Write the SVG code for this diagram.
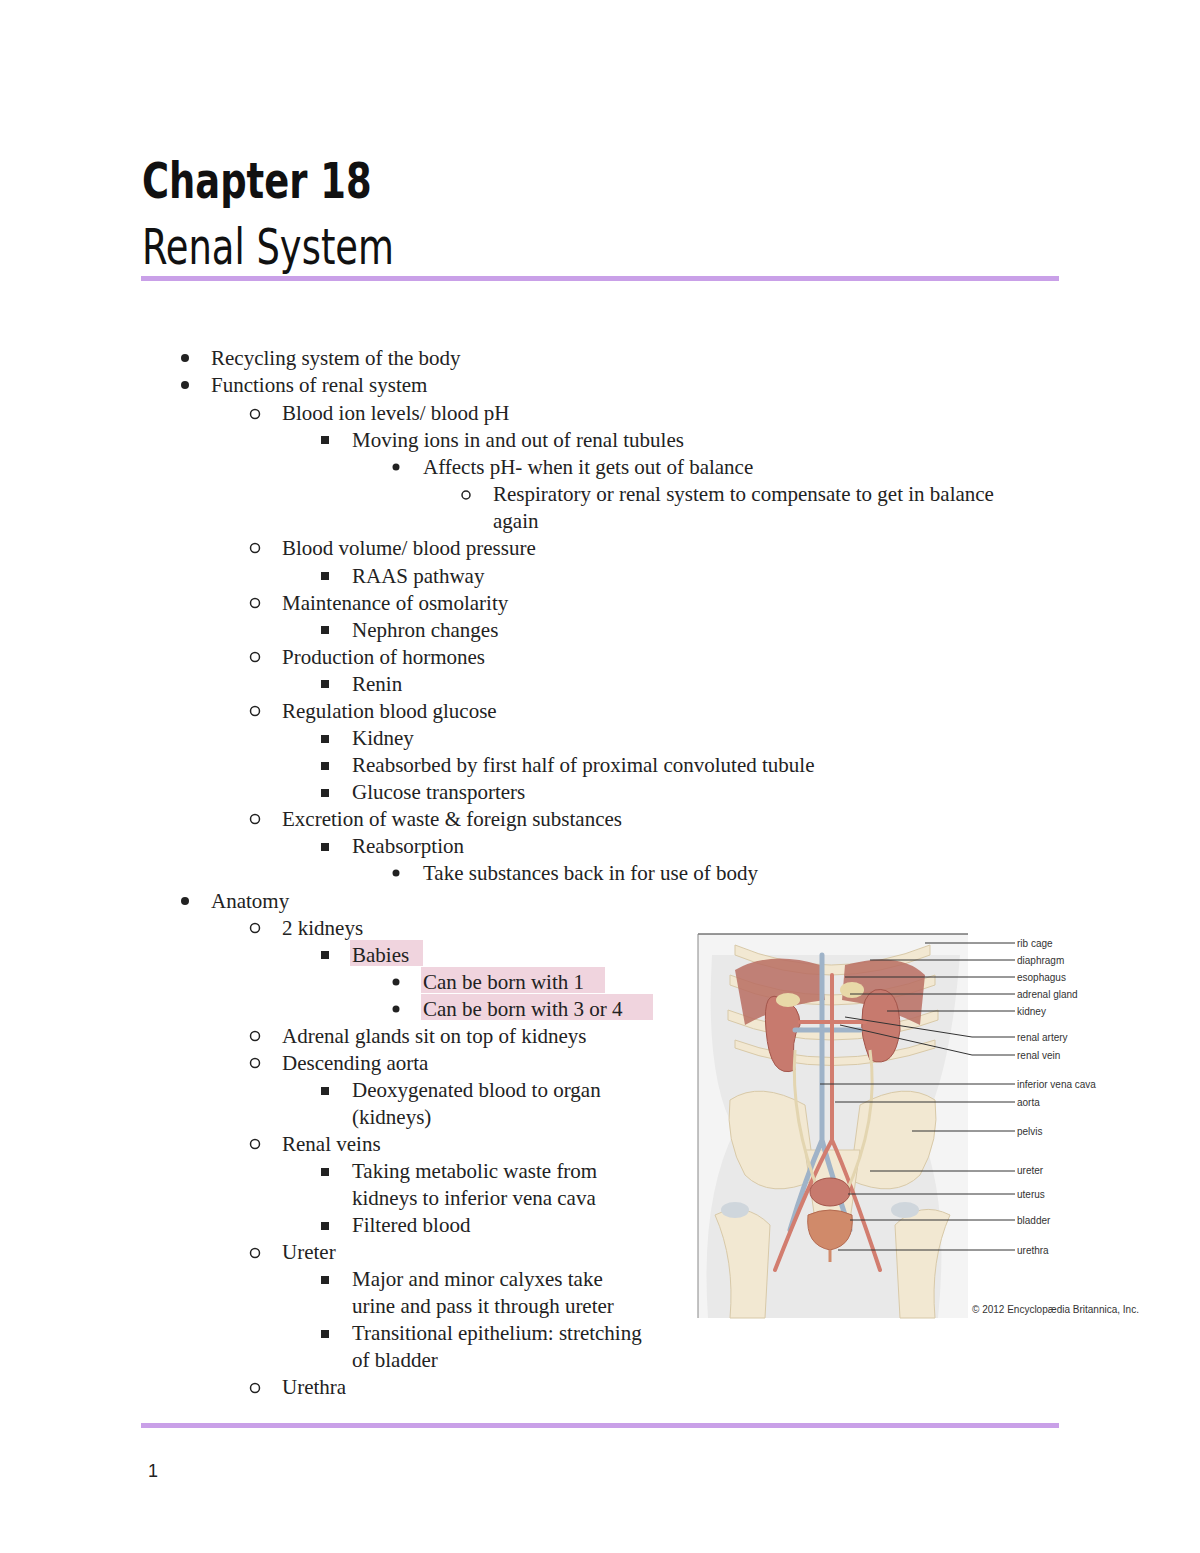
<svg xmlns="http://www.w3.org/2000/svg" width="1200" height="1553" viewBox="0 0 1200 1553">
<style>
.t{font-family:"Liberation Serif",serif;font-size:21px;fill:#222}
.h{font-family:"DejaVu Sans Condensed","Liberation Sans Narrow",sans-serif;font-stretch:condensed;fill:#111}
.l{font-family:"Liberation Sans",sans-serif;font-size:10px;fill:#333}
.ln{stroke:#333;stroke-width:1;fill:none}
.bone{fill:#f2e8d2;stroke:#d8c9a8;stroke-width:1}
.org{fill:#c77a6e;stroke:#a3554b;stroke-width:1}
.art{fill:none;stroke:#d27d6f;stroke-width:4;stroke-linecap:round}
.vein{fill:none;stroke:#9fb3c8;stroke-width:5;stroke-linecap:round}
.uret{fill:none;stroke:#e3d5b0;stroke-width:3}
</style>
<rect width="1200" height="1553" fill="#fff"/>
<g id="header">
<text class="h" x="142" y="198" font-size="50" font-weight="bold" transform="translate(142 0) scale(0.82 1) translate(-142 0)">Chapter 18</text>
<text class="h" x="142" y="264" font-size="50" transform="translate(142 0) scale(0.82 1) translate(-142 0)">Renal System</text>
<rect x="141" y="276" width="918" height="5" fill="#c9a0e8"/>
</g>
<g id="notes">
<g fill="#222">
<circle cx="185" cy="358" r="4"/><circle cx="185" cy="385" r="4"/><circle cx="185" cy="901" r="4"/>
<circle cx="396" cy="467" r="3.5"/><circle cx="396" cy="873" r="3.5"/><circle cx="396" cy="982" r="3.5"/><circle cx="396" cy="1009" r="3.5"/>
<rect x="321" y="436" width="8" height="8"/><rect x="321" y="572" width="8" height="8"/><rect x="321" y="626" width="8" height="8"/><rect x="321" y="680" width="8" height="8"/>
<rect x="321" y="735" width="8" height="8"/><rect x="321" y="762" width="8" height="8"/><rect x="321" y="789" width="8" height="8"/><rect x="321" y="843" width="8" height="8"/>
<rect x="321" y="951" width="8" height="8"/><rect x="321" y="1087" width="8" height="8"/><rect x="321" y="1168" width="8" height="8"/><rect x="321" y="1222" width="8" height="8"/>
<rect x="321" y="1276" width="8" height="8"/><rect x="321" y="1330" width="8" height="8"/>
</g>
<g fill="none" stroke="#222" stroke-width="1.5">
<circle cx="255" cy="414" r="4.5"/><circle cx="255" cy="548" r="4.5"/><circle cx="255" cy="603" r="4.5"/><circle cx="255" cy="657" r="4.5"/>
<circle cx="255" cy="711" r="4.5"/><circle cx="255" cy="819" r="4.5"/><circle cx="255" cy="928" r="4.5"/><circle cx="255" cy="1036" r="4.5"/>
<circle cx="255" cy="1063" r="4.5"/><circle cx="255" cy="1144" r="4.5"/><circle cx="255" cy="1253" r="4.5"/><circle cx="255" cy="1388" r="4.5"/>
<circle cx="466" cy="495" r="4"/>
</g>
<rect x="350" y="940" width="73" height="26" fill="#f0d4de"/>
<rect x="421" y="967" width="184" height="26" fill="#f0d4de"/>
<rect x="421" y="994" width="232" height="26" fill="#f0d4de"/>
<text class="t" x="211" y="365">Recycling system of the body</text>
<text class="t" x="211" y="392">Functions of renal system</text>
<text class="t" x="282" y="420">Blood ion levels/ blood pH</text>
<text class="t" x="352" y="447">Moving ions in and out of renal tubules</text>
<text class="t" x="423" y="474">Affects pH- when it gets out of balance</text>
<text class="t" x="493" y="501">Respiratory or renal system to compensate to get in balance</text>
<text class="t" x="493" y="528">again</text>
<text class="t" x="282" y="555">Blood volume/ blood pressure</text>
<text class="t" x="352" y="583">RAAS pathway</text>
<text class="t" x="282" y="610">Maintenance of osmolarity</text>
<text class="t" x="352" y="637">Nephron changes</text>
<text class="t" x="282" y="664">Production of hormones</text>
<text class="t" x="352" y="691">Renin</text>
<text class="t" x="282" y="718">Regulation blood glucose</text>
<text class="t" x="352" y="745">Kidney</text>
<text class="t" x="352" y="772">Reabsorbed by first half of proximal convoluted tubule</text>
<text class="t" x="352" y="799">Glucose transporters</text>
<text class="t" x="282" y="826">Excretion of waste &amp; foreign substances</text>
<text class="t" x="352" y="853">Reabsorption</text>
<text class="t" x="423" y="880">Take substances back in for use of body</text>
<text class="t" x="211" y="908">Anatomy</text>
<text class="t" x="282" y="935">2 kidneys</text>
<text class="t" x="352" y="962">Babies</text>
<text class="t" x="423" y="989">Can be born with 1</text>
<text class="t" x="423" y="1016">Can be born with 3 or 4</text>
<text class="t" x="282" y="1043">Adrenal glands sit on top of kidneys</text>
<text class="t" x="282" y="1070">Descending aorta</text>
<text class="t" x="352" y="1097">Deoxygenated blood to organ</text>
<text class="t" x="352" y="1124">(kidneys)</text>
<text class="t" x="282" y="1151">Renal veins</text>
<text class="t" x="352" y="1178">Taking metabolic waste from</text>
<text class="t" x="352" y="1205">kidneys to inferior vena cava</text>
<text class="t" x="352" y="1232">Filtered blood</text>
<text class="t" x="282" y="1259">Ureter</text>
<text class="t" x="352" y="1286">Major and minor calyxes take</text>
<text class="t" x="352" y="1313">urine and pass it through ureter</text>
<text class="t" x="352" y="1340">Transitional epithelium: stretching</text>
<text class="t" x="352" y="1367">of bladder</text>
<text class="t" x="282" y="1394">Urethra</text>
</g>
<g id="figure">
<rect x="698" y="934" width="270" height="384" fill="#f4f4f4"/>
<line x1="698" y1="934" x2="968" y2="934" class="ln"/>
<line x1="698" y1="934" x2="698" y2="1318" stroke="#888"/>
<path d="M712 955 Q705 1080 735 1130 Q700 1200 708 1318 L938 1318 Q950 1200 920 1130 Q950 1080 960 955 Z" fill="#e9e9e9"/>
<g class="bone">
<path d="M735 945 Q830 985 930 945 L930 955 Q830 995 735 955Z"/>
<path d="M730 975 Q830 1015 935 975 L935 985 Q830 1025 730 985Z"/>
<path d="M728 1010 Q830 1050 938 1010 L938 1020 Q830 1060 728 1020Z"/>
<path d="M735 1040 Q830 1075 935 1040 L935 1048 Q830 1083 735 1048Z"/>
<path d="M730 1100 Q760 1080 805 1105 L815 1180 Q770 1200 745 1175 Q725 1140 730 1100Z"/>
<path d="M935 1100 Q905 1080 860 1105 L850 1180 Q895 1200 920 1175 Q940 1140 935 1100Z"/>
<path d="M805 1150 L860 1150 L850 1220 L815 1220Z"/>
<path d="M715 1215 Q745 1200 770 1225 L765 1318 L730 1318 Q735 1260 715 1215Z"/>
<path d="M950 1215 Q920 1200 895 1225 L900 1318 L935 1318 Q930 1260 950 1215Z"/>
</g>
<path d="M735 970 Q770 950 820 965 L825 1000 Q780 1005 745 1025Z" fill="#b96d62" opacity="0.85"/>
<path d="M845 965 Q900 950 925 975 L920 1025 Q880 1005 842 1000Z" fill="#b96d62" opacity="0.85"/>
<path d="M783 1000 Q762 985 766 1030 Q770 1080 795 1070 Q790 1040 800 1025 Q800 1005 783 1000Z" class="org"/>
<path d="M875 990 Q900 985 900 1030 Q895 1070 870 1060 Q860 1035 862 1020 Q862 995 875 990Z" class="org"/>
<ellipse cx="788" cy="1000" rx="12" ry="7" fill="#e8d9a8"/>
<ellipse cx="852" cy="990" rx="12" ry="8" fill="#e8d9a8"/>
<path class="vein" d="M822 955 L822 1140 M822 1140 Q805 1180 790 1230 M822 1140 Q830 1170 850 1230 M795 1030 L860 1030"/>
<path class="art" d="M832 975 L832 1140 M832 1140 Q810 1180 775 1270 M832 1140 Q850 1180 880 1270 M800 1022 L865 1022"/>
<path class="uret" d="M795 1050 Q790 1120 820 1195 M870 1050 Q880 1120 845 1195"/>
<ellipse cx="830" cy="1192" rx="20" ry="14" class="org"/>
<path d="M808 1215 Q830 1205 852 1215 Q855 1245 830 1250 Q805 1245 808 1215Z" fill="#d08a6a" stroke="#b46a50"/>
<line x1="830" y1="1250" x2="830" y2="1262" stroke="#d08a6a" stroke-width="3"/>
<ellipse cx="735" cy="1210" rx="14" ry="8" fill="#cfd6dc"/>
<ellipse cx="905" cy="1210" rx="14" ry="8" fill="#cfd6dc"/>
<g class="ln" stroke-width="0.8">
<line x1="925" y1="943" x2="1015" y2="943"/>
<line x1="870" y1="960" x2="1015" y2="960"/>
<line x1="845" y1="977" x2="1015" y2="977"/>
<line x1="850" y1="994" x2="1015" y2="994"/>
<line x1="887" y1="1011" x2="1015" y2="1011"/>
<path d="M845 1017 L972 1037 L1015 1037"/>
<path d="M840 1025 L972 1055 L1015 1055"/>
<line x1="820" y1="1084" x2="1015" y2="1084"/>
<line x1="835" y1="1102" x2="1015" y2="1102"/>
<line x1="912" y1="1131" x2="1015" y2="1131"/>
<line x1="870" y1="1171" x2="1015" y2="1171"/>
<line x1="848" y1="1194" x2="1015" y2="1194"/>
<line x1="850" y1="1220" x2="1015" y2="1220"/>
<line x1="838" y1="1250" x2="1015" y2="1250"/>
</g>
<text class="l" x="1017" y="947">rib cage</text>
<text class="l" x="1017" y="964">diaphragm</text>
<text class="l" x="1017" y="981">esophagus</text>
<text class="l" x="1017" y="998">adrenal gland</text>
<text class="l" x="1017" y="1015">kidney</text>
<text class="l" x="1017" y="1041">renal artery</text>
<text class="l" x="1017" y="1059">renal vein</text>
<text class="l" x="1017" y="1088">inferior vena cava</text>
<text class="l" x="1017" y="1106">aorta</text>
<text class="l" x="1017" y="1135">pelvis</text>
<text class="l" x="1017" y="1174">ureter</text>
<text class="l" x="1017" y="1198">uterus</text>
<text class="l" x="1017" y="1224">bladder</text>
<text class="l" x="1017" y="1254">urethra</text>
<text class="l" x="972" y="1313">© 2012 Encyclopædia Britannica, Inc.</text>
</g>
<g id="footer">
<rect x="141" y="1423" width="918" height="5" fill="#c9a0e8"/>
<text x="148" y="1477" font-family="Liberation Sans,sans-serif" font-size="18" fill="#222">1</text>
</g>
</svg>
